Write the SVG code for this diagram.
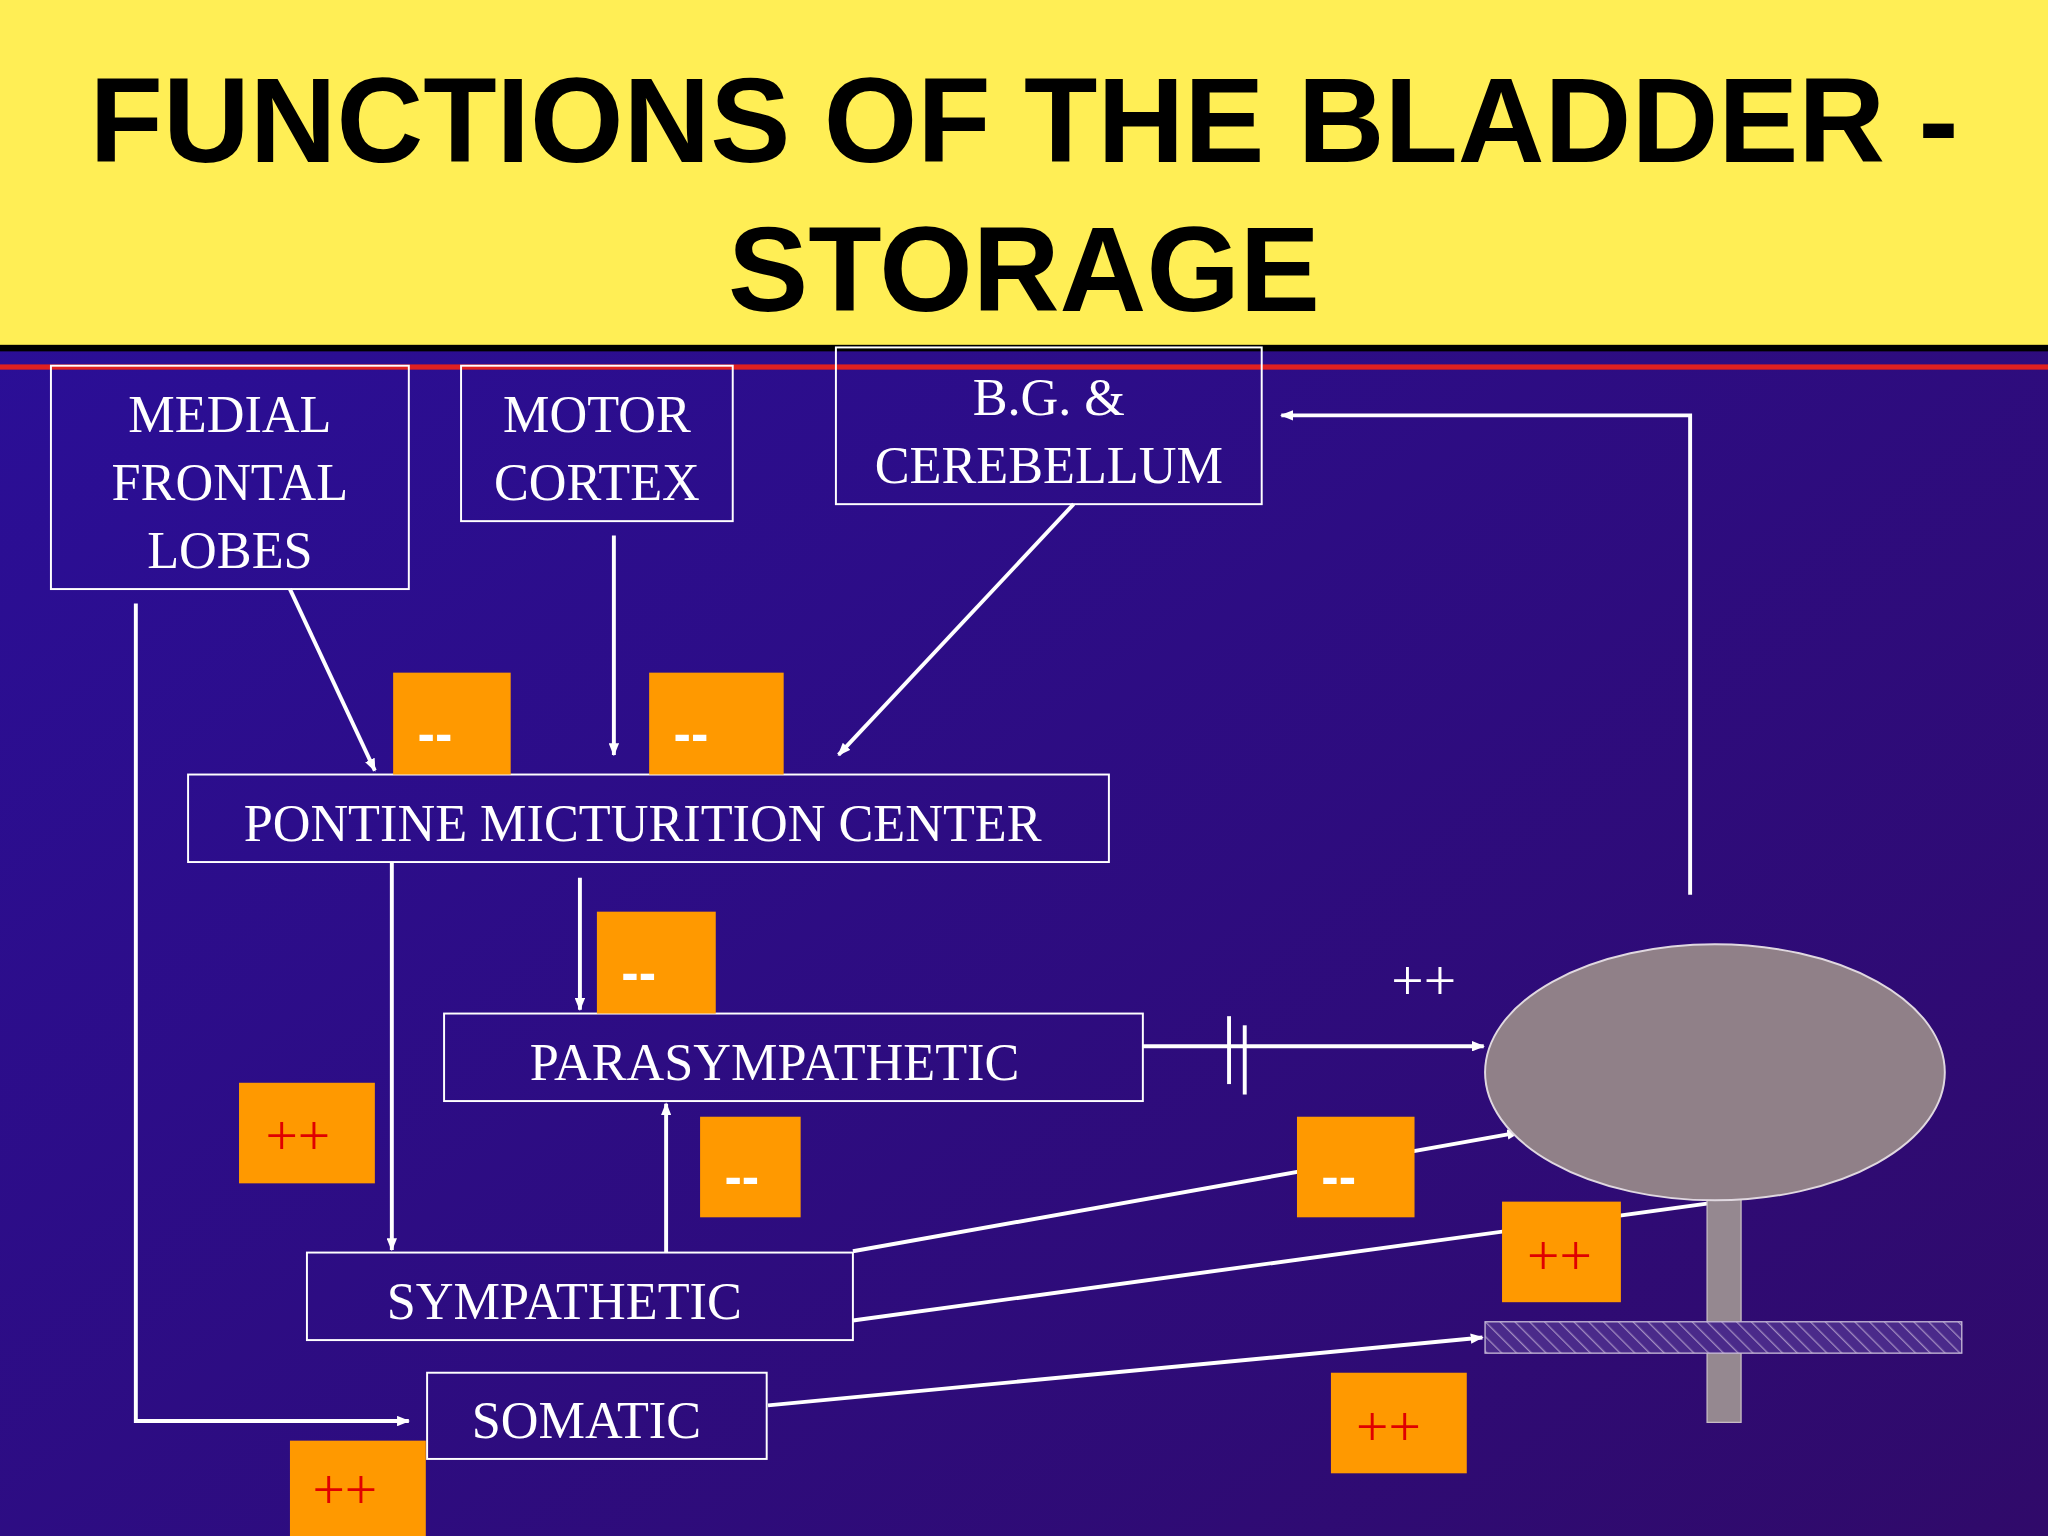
<svg xmlns="http://www.w3.org/2000/svg" width="2048" height="1536" viewBox="0 0 2048 1536">
<style>
.box{fill:none;stroke:#fff;stroke-width:1.5}
.t{font-family:"Liberation Serif",serif;font-size:40px;fill:#fff;text-anchor:middle}
.or{fill:#ff9900}
.sw{font-family:"Liberation Sans",sans-serif;font-size:40px;font-weight:bold;fill:#fff;text-anchor:middle}
.sr{font-family:"Liberation Serif",serif;font-size:44px;fill:#e00000;text-anchor:middle}
.c{stroke:#fff;stroke-width:3;fill:none}
.ca{stroke:#fff;stroke-width:3;fill:none;marker-end:url(#ah)}
</style>
<defs>
<linearGradient id="bg" x1="0" y1="0" x2="1" y2="1">
<stop offset="0" stop-color="#2a0f9c"/><stop offset="1" stop-color="#300a6a"/>
</linearGradient>
<marker id="ah" markerWidth="10" markerHeight="8" refX="9" refY="4" orient="auto" markerUnits="userSpaceOnUse">
<path d="M0,0 L10,4 L0,8 Z" fill="#fff"/>
</marker>
<pattern id="hatch" width="8" height="8" patternUnits="userSpaceOnUse" patternTransform="rotate(-45)">
<rect width="8" height="8" fill="#4a2a8a"/><line x1="0" y1="0" x2="0" y2="8" stroke="#a08ac0" stroke-width="2"/>
</pattern>
</defs>
<g transform="scale(1.30612)">
<rect width="1568" height="1176" fill="url(#bg)"/>
<rect width="1568" height="266" fill="#ffee55"/>
<rect y="264" width="1568" height="5" fill="#000"/>
<rect y="279" width="1568" height="4" fill="#e02020"/>
<g id="title" font-family="Liberation Sans,sans-serif" font-weight="bold" font-size="92" text-anchor="middle">
<text x="784" y="124">FUNCTIONS OF THE BLADDER -</text>
<text x="784" y="238">STORAGE</text>
</g>
<g id="connectors">
<polyline class="ca" points="104,462 104,1088 313,1088"/>
<line class="ca" x1="222" y1="451" x2="287" y2="590"/>
<line class="ca" x1="470" y1="410" x2="470" y2="578"/>
<line class="ca" x1="822" y1="386" x2="642" y2="578"/>
<line class="ca" x1="300" y1="660" x2="300" y2="957"/>
<line class="ca" x1="444" y1="672" x2="444" y2="773"/>
<line class="ca" x1="510" y1="959" x2="510" y2="845"/>
<line class="ca" x1="875" y1="801" x2="1136" y2="801"/>
<line class="c" x1="941" y1="778" x2="941" y2="830" stroke-width="2"/>
<line class="c" x1="953" y1="785" x2="953" y2="838" stroke-width="2"/>
<line class="ca" x1="653" y1="958" x2="1163" y2="867"/>
<line class="ca" x1="653" y1="1011" x2="1318" y2="920"/>
<line class="ca" x1="588" y1="1076" x2="1135" y2="1024"/>
<polyline class="ca" points="1294,685 1294,318 981,318"/>
</g>
<g id="bladder">
<rect x="1307" y="905" width="26" height="184" fill="#958890" stroke="#c8bcc4"/>
<ellipse cx="1313" cy="821" rx="176" ry="98" fill="#908088" stroke="#e0d8e0" stroke-width="1.5"/>
<rect x="1137" y="1012" width="365" height="24" fill="url(#hatch)" stroke="#c8bcd8"/>
</g>
<text x="1090" y="766" font-family="Liberation Serif,serif" font-size="44" fill="#fff" text-anchor="middle">++</text>
<g id="mfl"><rect class="box" x="39" y="280" width="274" height="171"/>
<text class="t" x="176" y="331">MEDIAL</text><text class="t" x="176" y="383">FRONTAL</text><text class="t" x="176" y="435">LOBES</text></g>
<g id="mc"><rect class="box" x="353" y="280" width="208" height="119"/>
<text class="t" x="457" y="331">MOTOR</text><text class="t" x="457" y="383">CORTEX</text></g>
<g id="bg"><rect class="box" x="640" y="266" width="326" height="120"/>
<text class="t" x="803" y="318">B.G. &amp;</text><text class="t" x="803" y="370">CEREBELLUM</text></g>
<g id="pmc"><rect class="box" x="144" y="593" width="705" height="67"/>
<text class="t" x="492" y="644">PONTINE MICTURITION CENTER</text></g>
<g id="para"><rect class="box" x="340" y="776" width="535" height="67"/>
<text class="t" x="593" y="827">PARASYMPATHETIC</text></g>
<g id="symp"><rect class="box" x="235" y="959" width="418" height="67"/>
<text class="t" x="432" y="1010">SYMPATHETIC</text></g>
<g id="som"><rect class="box" x="327" y="1051" width="260" height="66"/>
<text class="t" x="449" y="1101">SOMATIC</text></g>
<g id="signs">
<rect class="or" x="301" y="515" width="90" height="78"/><text class="sw" x="333" y="575">--</text>
<rect class="or" x="497" y="515" width="103" height="78"/><text class="sw" x="529" y="575">--</text>
<rect class="or" x="457" y="698" width="91" height="78"/><text class="sw" x="489" y="758">--</text>
<rect class="or" x="536" y="855" width="77" height="77"/><text class="sw" x="568" y="914">--</text>
<rect class="or" x="993" y="855" width="90" height="77"/><text class="sw" x="1025" y="914">--</text>
<rect class="or" x="183" y="829" width="104" height="77"/><text class="sr" x="228" y="884">++</text>
<rect class="or" x="1150" y="920" width="91" height="77"/><text class="sr" x="1194" y="976">++</text>
<rect class="or" x="1019" y="1051" width="104" height="77"/><text class="sr" x="1063" y="1107">++</text>
<rect class="or" x="222" y="1103" width="104" height="73"/><text class="sr" x="264" y="1155">++</text>
</g>
</g>
</svg>
